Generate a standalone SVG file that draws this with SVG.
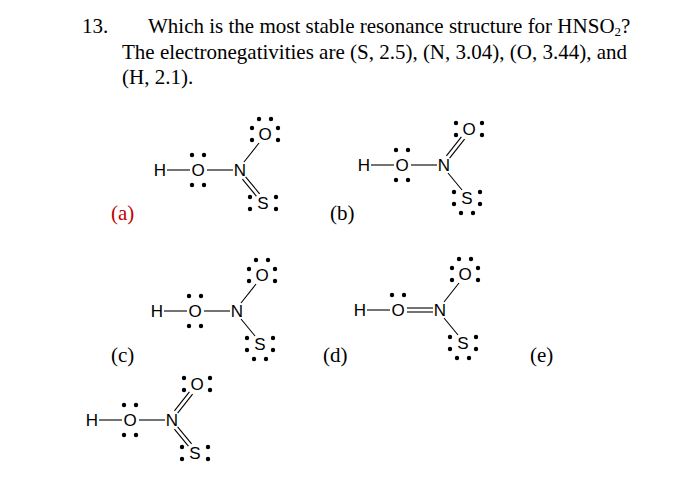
<svg xmlns="http://www.w3.org/2000/svg" xmlns:xlink="http://www.w3.org/1999/xlink" width="700" height="480" viewBox="0 0 700 480">
<style>
.q{font-family:"Liberation Serif",serif;font-size:21px;fill:#000}
.a{font-family:"Liberation Sans",sans-serif;font-size:17px;fill:#000;text-anchor:middle}
.b{stroke:#000;stroke-width:1.1;fill:none}
.d{fill:#000}
</style>
<defs>
<g id="pT" class="d"><circle cx="-6" cy="-15" r="2.2"/><circle cx="6" cy="-15" r="2.2"/></g>
<g id="pB" class="d"><circle cx="-6" cy="15" r="2.2"/><circle cx="6" cy="15" r="2.2"/></g>
<g id="pL" class="d"><circle cx="-13" cy="-6" r="2.2"/><circle cx="-13" cy="6" r="2.2"/></g>
<g id="pR" class="d"><circle cx="13" cy="-6" r="2.2"/><circle cx="13" cy="6" r="2.2"/></g>
<g id="atoms">
<text class="a" x="-80" y="6">H</text><text class="a" x="-42" y="6">O</text><text class="a" x="0" y="6">N</text>
<text class="a" x="25" y="-30">O</text><text class="a" x="23" y="39">S</text>
<line class="b" x1="-73" y1="0" x2="-50" y2="0"/>
</g>
</defs>
<text class="q" x="82" y="33">13.</text>
<text class="q" x="148" y="33">Which is the most stable resonance structure for HNSO<tspan font-size="13" dy="3">2</tspan><tspan dy="-3">?</tspan></text>
<text class="q" x="122" y="59">The electronegativities are (S, 2.5), (N, 3.04), (O, 3.44), and</text>
<text class="q" x="122" y="84">(H, 2.1).</text>
<g id="labels" class="q"><text x="111" y="220" fill="#c00000">(a)</text><text x="330" y="220">(b)</text><text x="111" y="362">(c)</text><text x="323" y="362">(d)</text><text x="530" y="362">(e)</text></g>
<g id="connectors">
<g transform="translate(240,170)" class="b">
<line x1="-33" y1="0" x2="-7" y2="0"/><line x1="4" y1="-8" x2="19" y2="-27"/>
<line x1="5.6" y1="6.8" x2="19.6" y2="23.8"/><line x1="2.4" y1="9.2" x2="16.4" y2="26.2"/></g>
<g transform="translate(444,165)" class="b">
<line x1="-33" y1="0" x2="-7" y2="0"/><line x1="5.6" y1="-6.8" x2="20.6" y2="-25.8"/><line x1="2.4" y1="-9.2" x2="17.4" y2="-28.2"/>
<line x1="4" y1="8" x2="18" y2="25"/></g>
<g transform="translate(237,311)" class="b">
<line x1="-33" y1="0" x2="-7" y2="0"/><line x1="4" y1="-8" x2="19" y2="-27"/><line x1="4" y1="8" x2="18" y2="25"/></g>
<g transform="translate(440,310)" class="b">
<line x1="-33" y1="-2" x2="-7" y2="-2"/><line x1="-33" y1="2" x2="-7" y2="2"/><line x1="4" y1="-8" x2="19" y2="-27"/><line x1="4" y1="8" x2="18" y2="25"/></g>
<g transform="translate(172,420)" class="b">
<line x1="-33" y1="0" x2="-7" y2="0"/><line x1="5.6" y1="-6.8" x2="20.6" y2="-25.8"/><line x1="2.4" y1="-9.2" x2="17.4" y2="-28.2"/>
<line x1="5.6" y1="6.8" x2="19.6" y2="23.8"/><line x1="2.4" y1="9.2" x2="16.4" y2="26.2"/></g>
</g>
<g id="a" transform="translate(240,170)"><use href="#atoms"/>
<use href="#pT" x="-42"/><use href="#pB" x="-42"/>
<use href="#pT" x="25" y="-36"/><use href="#pL" x="25" y="-36"/><use href="#pR" x="25" y="-36"/>
<use href="#pL" x="23" y="33"/><use href="#pR" x="23" y="33"/></g>
<g id="b" transform="translate(444,165)"><use href="#atoms"/>
<use href="#pT" x="-42"/><use href="#pB" x="-42"/>
<use href="#pL" x="25" y="-36"/><use href="#pR" x="25" y="-36"/>
<use href="#pL" x="23" y="33"/><use href="#pR" x="23" y="33"/><use href="#pB" x="23" y="33"/></g>
<g id="c" transform="translate(237,311)"><use href="#atoms"/>
<use href="#pT" x="-42"/><use href="#pB" x="-42"/>
<use href="#pT" x="25" y="-36"/><use href="#pL" x="25" y="-36"/><use href="#pR" x="25" y="-36"/>
<use href="#pL" x="23" y="33"/><use href="#pR" x="23" y="33"/><use href="#pB" x="23" y="33"/></g>
<g id="d" transform="translate(440,310)"><use href="#atoms"/>
<use href="#pT" x="-42"/>
<use href="#pT" x="25" y="-36"/><use href="#pL" x="25" y="-36"/><use href="#pR" x="25" y="-36"/>
<use href="#pL" x="23" y="33"/><use href="#pR" x="23" y="33"/><use href="#pB" x="23" y="33"/></g>
<g id="e" transform="translate(172,420)"><use href="#atoms"/>
<use href="#pT" x="-42"/><use href="#pB" x="-42"/>
<use href="#pL" x="25" y="-36"/><use href="#pR" x="25" y="-36"/>
<use href="#pL" x="23" y="33"/><use href="#pR" x="23" y="33"/></g>
</svg>
